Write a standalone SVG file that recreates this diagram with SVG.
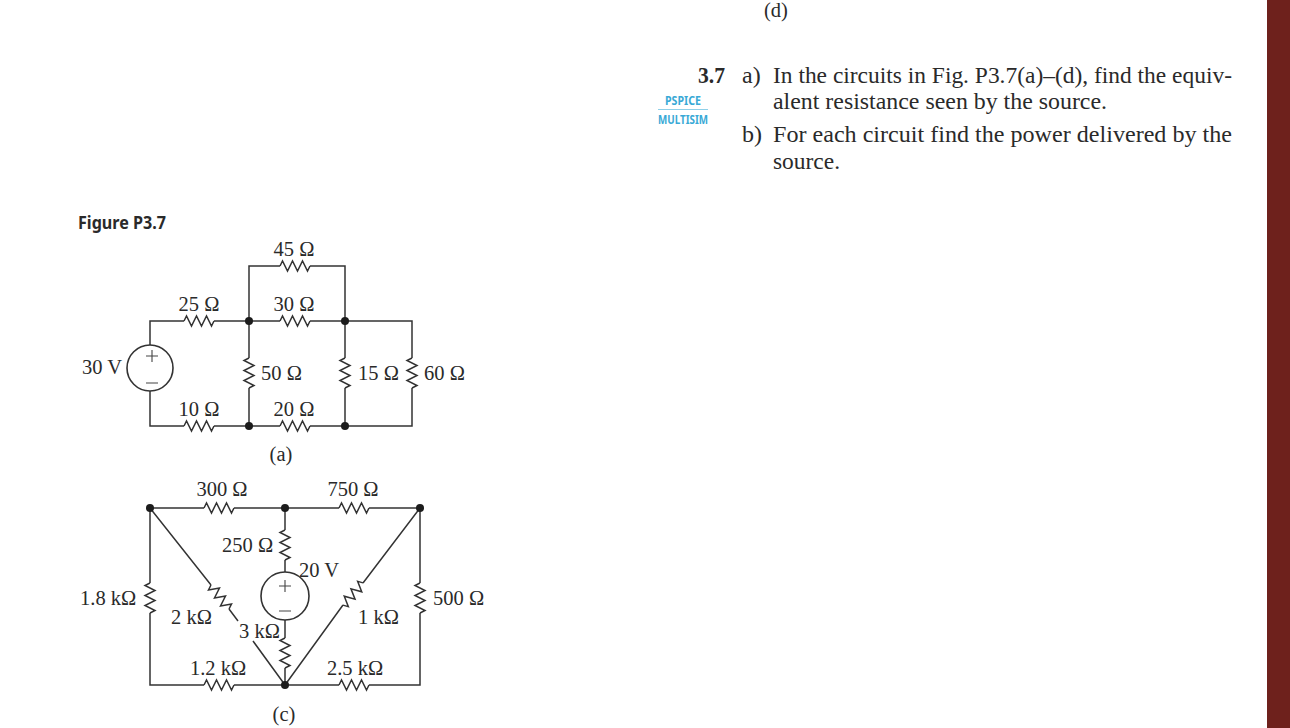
<svg xmlns="http://www.w3.org/2000/svg" width="1290" height="728" viewBox="0 0 1290 728">
<style>
text{font-family:"Liberation Serif","Times New Roman",serif;fill:#2a2a2a}
.l{font-size:20.5px}
.c{font-size:20.5px;text-anchor:middle}
.p{font-size:24px}
.w{fill:none;stroke:#333;stroke-width:1.5}
.n{fill:#1c1c1c}
.s{fill:#fff;stroke:#333;stroke-width:1.6}
.t{fill:none;stroke:#444;stroke-width:1.1}
.h{font-family:"Noto Sans","Liberation Sans",sans-serif;font-weight:bold;fill:#39a9d6;font-size:11.5px}
</style>
<defs>
<path id="rh" d="M-15 0L-12.5 -5L-7.5 5L-2.5 -5L2.5 5L7.5 -5L12.5 5L15 0" fill="none" stroke="#333" stroke-width="1.5"/>
<path id="rv" d="M0 -15L-5 -12.5L5 -7.5L-5 -2.5L5 2.5L-5 7.5L5 12.5L0 15" fill="none" stroke="#333" stroke-width="1.5"/>
</defs>
<rect width="1290" height="728" fill="#fff"/>
<rect x="1267" y="0" width="23" height="728" fill="#6e211c"/>

<g id="connectors">
<path class="w" d="M150 345V321H184M214 321H280M310 321H412V358M412 388V426H310M280 426H214M184 426H150V391"/>
<path class="w" d="M249 321V266H280M310 266H345V321"/>
<path class="w" d="M249 321V358M249 388V426M345 321V358M345 388V426"/>
<path class="w" d="M150 508H204M234 508H339M369 508H420M150 508V583M150 613V685H204M234 685H339M369 685H420V613M420 583V508"/>
<path class="w" d="M285 508V530M285 560V572M285 620V638M285 668V685"/>
<path class="w" d="M150 508L211 585M229 609L238 621M253 641L285 685M420 508L363 583M343 605L285 685"/>
</g>

<g id="r25"><use href="#rh" x="199" y="321"/><text class="c" x="199" y="311">25 Ω</text></g>
<g id="r10"><use href="#rh" x="199" y="426"/><text class="c" x="199" y="416">10 Ω</text></g>
<g id="r45"><use href="#rh" x="295" y="266"/><text class="c" x="294" y="256">45 Ω</text></g>
<g id="r30"><use href="#rh" x="295" y="321"/><text class="c" x="294" y="311">30 Ω</text></g>
<g id="r20"><use href="#rh" x="295" y="426"/><text class="c" x="294" y="416">20 Ω</text></g>
<g id="r50"><use href="#rv" x="249" y="373"/><text class="l" x="261" y="380">50 Ω</text></g>
<g id="r15"><use href="#rv" x="345" y="373"/><text class="l" x="358" y="380">15 Ω</text></g>
<g id="r60"><use href="#rv" x="412" y="373"/><text class="l" x="424" y="380">60 Ω</text></g>
<g id="v30">
<circle class="s" cx="150" cy="368" r="23"/>
<path class="t" d="M146 356H158M152 350V362M146 383H158"/>
<text class="l" x="82" y="374">30 V</text>
</g>
<g id="nodes-a" class="n"><circle cx="249" cy="321" r="4"/><circle cx="345" cy="321" r="4"/><circle cx="249" cy="426" r="4"/><circle cx="345" cy="426" r="4"/></g>
<text class="c" x="281" y="461">(a)</text>

<g id="r300"><use href="#rh" x="219" y="508"/><text class="c" x="222" y="496">300 Ω</text></g>
<g id="r750"><use href="#rh" x="354" y="508"/><text class="c" x="353" y="496">750 Ω</text></g>
<g id="r12k"><use href="#rh" x="219" y="685"/><text class="c" x="218" y="675">1.2 kΩ</text></g>
<g id="r25k"><use href="#rh" x="354" y="685"/><text class="c" x="355" y="675">2.5 kΩ</text></g>
<g id="r18k"><use href="#rv" x="150" y="598"/><text class="l" x="80" y="605">1.8 kΩ</text></g>
<g id="r500"><use href="#rv" x="420" y="598"/><text class="l" x="433" y="605">500 Ω</text></g>
<g id="r250"><use href="#rv" x="285" y="545"/><text class="l" x="222" y="552">250 Ω</text></g>
<g id="r3k"><use href="#rv" x="285" y="653"/><text class="l" x="239" y="638">3 kΩ</text></g>
<g id="r2k"><use href="#rv" transform="translate(220 597) rotate(-37)"/><text class="l" x="171" y="624">2 kΩ</text></g>
<g id="r1k"><use href="#rv" transform="translate(353 594) rotate(42)"/><text class="l" x="358" y="624">1 kΩ</text></g>
<g id="v20">
<circle class="s" cx="285" cy="596" r="24"/>
<path class="t" d="M279 586H291M285 580V592M279 611H291"/>
<text class="l" x="299" y="577">20 V</text>
</g>
<g id="nodes-c" class="n"><circle cx="150" cy="508" r="4"/><circle cx="285" cy="508" r="4"/><circle cx="420" cy="508" r="4"/><circle cx="285" cy="685" r="4"/></g>
<text class="c" x="284" y="721">(c)</text>

<text x="78" y="229" font-size="18" style="font-family:'Noto Sans','Liberation Sans',sans-serif;font-weight:bold" textLength="88" lengthAdjust="spacingAndGlyphs">Figure P3.7</text>
<text class="c" x="776" y="17" style="font-size:20.5px">(d)</text>

<text class="p" x="698" y="83" font-weight="bold" textLength="27" lengthAdjust="spacingAndGlyphs">3.7</text>
<text class="p" x="742" y="83">a)</text>
<text class="p" x="773" y="83" textLength="459" lengthAdjust="spacingAndGlyphs">In the circuits in Fig. P3.7(a)–(d), find the equiv-</text>
<text class="p" x="773" y="109" textLength="334" lengthAdjust="spacingAndGlyphs">alent resistance seen by the source.</text>
<text class="p" x="742" y="142">b)</text>
<text class="p" x="773" y="142" textLength="459" lengthAdjust="spacingAndGlyphs">For each circuit find the power delivered by the</text>
<text class="p" x="773" y="169" textLength="67" lengthAdjust="spacingAndGlyphs">source.</text>
<text class="h" x="665" y="105" textLength="36" lengthAdjust="spacingAndGlyphs">PSPICE</text>
<rect x="658" y="109" width="50" height="1" fill="#8fd0e8"/>
<text class="h" x="658" y="124" textLength="50" lengthAdjust="spacingAndGlyphs">MULTISIM</text>
</svg>
